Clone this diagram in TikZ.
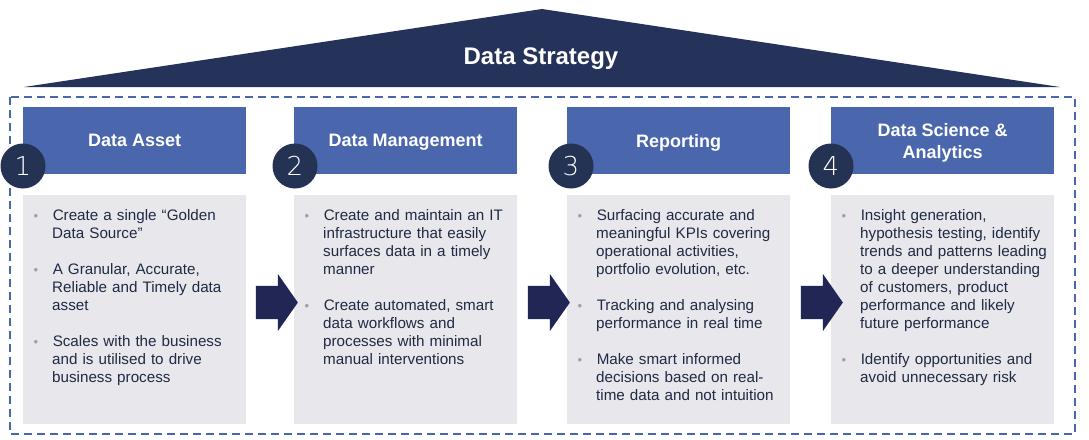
\documentclass[tikz,border=0pt]{standalone}
\usepackage{fontspec}
\setmainfont{Liberation Sans}
\newfontfamily\numfont{DejaVu Sans ExtraLight}
\usetikzlibrary{shapes.arrows,positioning,calc}

\definecolor{roofnavy}{HTML}{25335A}
\definecolor{headblue}{HTML}{4A66AC}
\definecolor{circnavy}{HTML}{243253}
\definecolor{boxgray}{HTML}{E8E7EB}
\definecolor{arrnavy}{HTML}{212655}
\definecolor{txtnavy}{HTML}{1F2A44}
\definecolor{dotgray}{HTML}{A29CB0}

\newenvironment{dotlist}{%
  \begin{list}{\textcolor{dotgray}{\fontsize{13}{13}\selectfont\textbullet}}{%
    \setlength{\leftmargin}{19pt}\setlength{\labelwidth}{4pt}%
    \setlength{\labelsep}{14.5pt}\setlength{\topsep}{0pt}%
    \setlength{\partopsep}{0pt}\setlength{\parsep}{0pt}%
    \setlength{\itemsep}{18pt}}}{\end{list}}

\begin{document}
\begin{tikzpicture}[x=1pt, y=-1pt,
    header/.style={rectangle, fill=headblue, minimum width=223pt, minimum height=67pt, inner sep=0pt, anchor=north west, text=white, font=\fontsize{18}{21.6}\selectfont\bfseries, align=center, text depth=0pt},
    bodybox/.style={rectangle, fill=boxgray, minimum width=223pt, minimum height=229pt, inner sep=0pt, anchor=north west},
    bodytext/.style={anchor=north west, inner sep=0pt, text width=215pt, text=txtnavy, font=\fontsize{15.2}{18}\selectfont},
    numcircle/.style={circle, fill=circnavy, minimum size=45pt, inner sep=0pt, text=white, font=\numfont\fontsize{26}{26}\selectfont},
    flowarrow/.style={single arrow, fill=arrnavy, minimum height=42pt, inner xsep=0pt, inner ysep=16.5pt, single arrow head extend=12pt, single arrow tip angle=110}]
    \useasboundingbox (0,0) rectangle (1089,439);

    % roof
    \fill[roofnavy] (24,87) -- (542,9) -- (1060,87) -- cycle;
    \node[text=white, font=\fontsize{24}{24}\selectfont\bfseries, text depth=0pt] (title) at (541,56) {Data Strategy};

    \draw[headblue, line width=2pt, dash pattern=on 8pt off 5pt] (10,97) rectangle (1075,434);

    % headers
    \node[header] (head1) at (23,107) {Data Asset};
    \node[header] (head2) at (294,107) {Data Management};
    \node[header] (head3) at (567,107) {Reporting};
    \node[header] (head4) at (831,107) {Data Science \&\\Analytics};

    \node[numcircle] (num1) at (23,166) {1};
    \node[numcircle] (num2) at (295,166) {2};
    \node[numcircle] (num3) at (571,166) {3};
    \node[numcircle] (num4) at (831,166) {4};

    % bodies
    \node[bodybox] (body1) at (23,195) {};
    \node[bodybox] (body2) at (294,195) {};
    \node[bodybox] (body3) at (567,195) {};
    \node[bodybox] (body4) at (831,195) {};

    \node[bodytext] (list1) at ($(body1.north west)+(10,7)$) {\begin{dotlist}
        \item Create a single “Golden\\Data Source”
        \item A Granular, Accurate,\\Reliable and Timely data\\asset
        \item Scales with the business\\and is utilised to drive\\business process
      \end{dotlist}};
    \node[bodytext] (list2) at ($(body2.north west)+(10,7)$) {\begin{dotlist}
        \item Create and maintain an IT\\infrastructure that easily\\surfaces data in a timely\\manner
        \item Create automated, smart\\data workflows and\\processes with minimal\\manual interventions
      \end{dotlist}};
    \node[bodytext] (list3) at ($(body3.north west)+(10,7)$) {\begin{dotlist}
        \item Surfacing accurate and\\meaningful KPIs covering\\operational activities,\\portfolio evolution, etc.
        \item Tracking and analysing\\performance in real time
        \item Make smart informed\\decisions based on real-\\time data and not intuition
      \end{dotlist}};
    \node[bodytext] (list4) at ($(body4.north west)+(10,7)$) {\begin{dotlist}
        \item Insight generation,\\hypothesis testing, identify\\trends and patterns leading\\to a deeper understanding\\of customers, product\\performance and likely\\future performance
        \item Identify opportunities and\\avoid unnecessary risk
      \end{dotlist}};

    % arrows
    \node[flowarrow] (arr1) at (271,302.5) {};
    \node[flowarrow] (arr2) at (543,302.5) {};
    \node[flowarrow] (arr3) at (816,302.5) {};
\end{tikzpicture}
\end{document}
